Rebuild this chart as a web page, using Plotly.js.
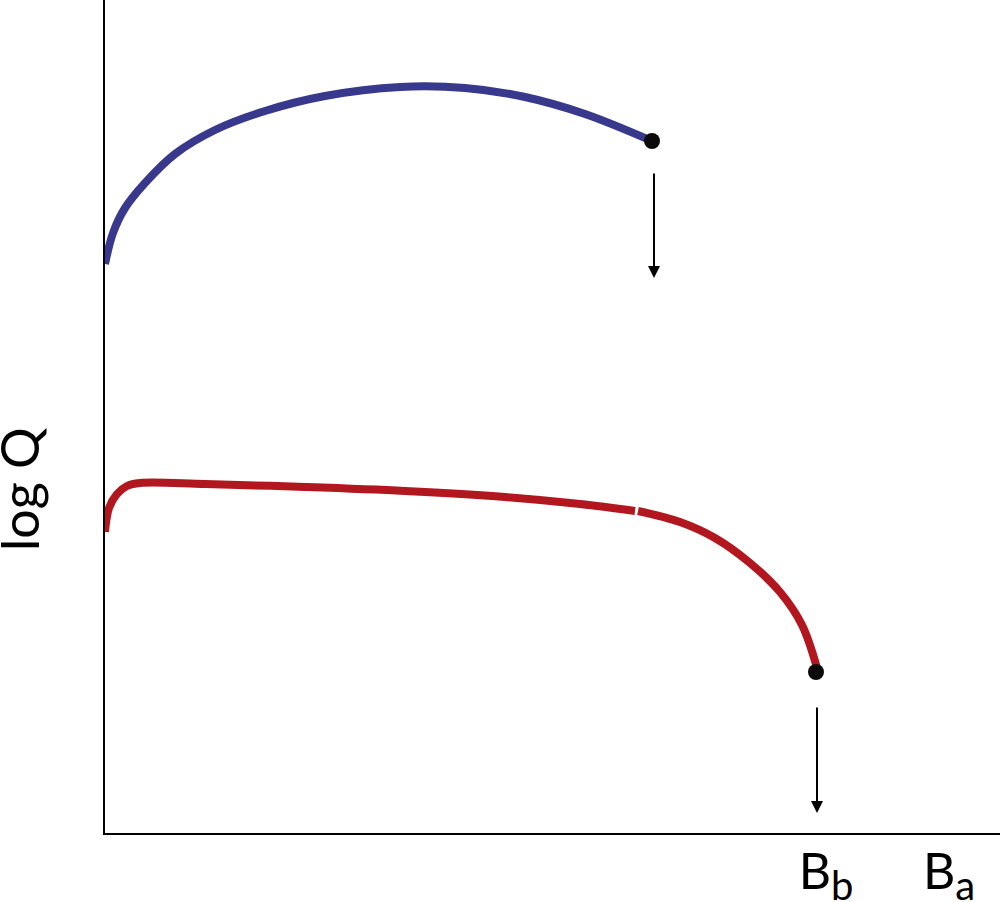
<!DOCTYPE html>
<html>
<head>
<meta charset="utf-8">
<script src="https://cdn.plot.ly/plotly-3.0.1.min.js"></script>
<style>
    html, body { margin: 0; padding: 0; background: #fff; }
    #plotly__graph { width: 1000px; height: 902px; }
</style>
</head>
<body>
<div id="plotly__graph"></div>
<script>
// **********************************************************************************************
// DATA

// upper curve (blue), ends at the black dot
const blue_x = [0, 8, 20, 40, 70, 110, 160, 220, 295, 360, 420, 480, 547];
const blue_y = [571, 602, 627, 652, 681, 705, 724, 739, 748, 747, 738, 721, 694];

// lower curve (red), drawn in two pieces with a small break
const red1_x = [0, 4, 12, 22, 35, 100, 200, 300, 400, 475, 530];
const red1_y = [303, 327, 341, 349, 352, 351, 348, 344, 338, 331, 324];
const red2_x = [533, 575, 610, 645, 675, 697, 712];
const red2_y = [324, 313, 297, 272, 243, 210, 167];

// end points
const dot_x = [547, 711];
const dot_y = [694, 163];

// arrows: [x, tail y, tip y]
const arrows = [
    [549, 663, 557],
    [712, 129, 22]
];

const tick_vals = [721, 844];
const tick_text = [
    'B<sub><span style="font-size:40px">b</span></sub>',
    'B<sub><span style="font-size:40px">a</span></sub>'
];

const plotly_graph = () => {
    const div = document.getElementById('plotly__graph');

    const blue = 'rgb(56, 56, 140)';
    const red = 'rgb(178, 22, 30)';

    let trace1 = {
        type: 'scatter', mode: 'lines',
        x: blue_x, y: blue_y,
        line: { color: blue, width: 8, shape: 'spline', smoothing: 1 },
        hoverinfo: 'skip'
    };

    let trace2 = {
        type: 'scatter', mode: 'lines',
        x: red1_x, y: red1_y,
        line: { color: red, width: 8, shape: 'spline', smoothing: 1 },
        hoverinfo: 'skip'
    };

    let trace3 = {
        type: 'scatter', mode: 'lines',
        x: red2_x, y: red2_y,
        line: { color: red, width: 8, shape: 'spline', smoothing: 1 },
        hoverinfo: 'skip'
    };

    let trace4 = {
        type: 'scatter', mode: 'markers',
        x: dot_x, y: dot_y,
        marker: { color: '#0a0a0a', size: 16 },
        cliponaxis: false,
        hoverinfo: 'skip'
    };

    let data = [trace1, trace2, trace3, trace4];

    // **********************************************************************************************
    // ANNOTATIONS

    let annotations = arrows.map(a => ({
        x: a[0], y: a[2], ax: a[0], ay: a[1],
        xref: 'x', yref: 'y', axref: 'x', ayref: 'y',
        text: '', showarrow: true,
        arrowhead: 2, arrowsize: 1.2, arrowwidth: 2, arrowcolor: '#000'
    }));

    annotations.push({
        text: 'log Q',
        xref: 'paper', yref: 'y',
        x: -0.133, y: 346,
        textangle: -90,
        showarrow: false,
        font: { family: 'Lato, sans-serif', size: 52, color: '#000' }
    });

    // **********************************************************************************************
    // LAYOUT

    let layout = {
        width: 1000,
        height: 902,
        margin: { t: 0, r: 0, b: 69, l: 105, pad: 0 },
        paper_bgcolor: '#fff',
        plot_bgcolor: '#fff',
        showlegend: false,
        dragmode: false,
        font: { family: 'Lato, sans-serif', size: 50, color: '#000' },
        xaxis: {
            range: [0, 895],
            showgrid: false, zeroline: false,
            showline: true, linecolor: '#000', linewidth: 2,
            ticks: '',
            tickvals: tick_vals,
            ticktext: tick_text,
            ticklabelstandoff: -6,
            tickfont: { family: 'Lato, sans-serif', size: 50, color: '#000' }
        },
        yaxis: {
            range: [2, 835],
            showgrid: false, zeroline: false,
            showline: true, linecolor: '#000', linewidth: 2,
            ticks: '',
            showticklabels: false
        },
        annotations: annotations
    };

    const config = {
        responsive: false,
        displaylogo: false,
        displayModeBar: false,
        staticPlot: true
    };

    Plotly.newPlot(div, data, layout, config);
};

plotly_graph();
</script>
</body>
</html>
